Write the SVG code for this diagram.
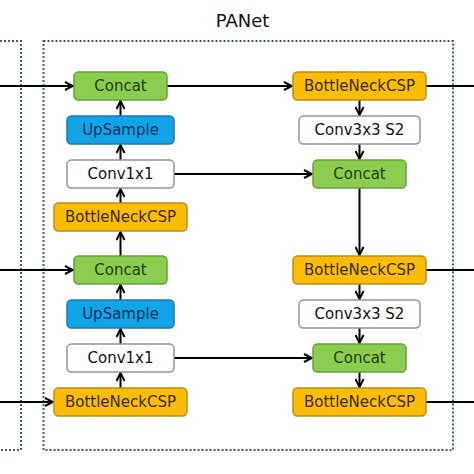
<svg xmlns="http://www.w3.org/2000/svg" width="474" height="474" viewBox="0 0 474 474">
<style>
.frame{fill:none;stroke:#4f5766;stroke-width:2;stroke-dasharray:2 2}
.n rect{stroke-width:1.5}
.cc rect{fill:#8bce4f;stroke:#6a9e3e}
.up rect{fill:#11a5e8;stroke:#1b7aae}
.bn rect{fill:#fbbd08;stroke:#b98d18}
.cv rect{fill:#ffffff;stroke:#949494}
.n text{font-family:"DejaVu Sans",sans-serif;font-size:15px;text-anchor:middle;dominant-baseline:central}
.cc text{fill:#1f3d0e}
.up text{fill:#0b2f5c}
.bn text{fill:#3b2a05}
.cv text{fill:#111}
.e{fill:none;stroke:#000;stroke-width:2}
</style>
<defs>
<marker id="a" viewBox="0 0 10 10" refX="9" refY="5" markerWidth="10" markerHeight="10" markerUnits="userSpaceOnUse" orient="auto">
<path d="M1,1 L9,5 L1,9" fill="none" stroke="#000" stroke-width="2"/>
</marker>
</defs>
<rect width="474" height="474" fill="#fff"/>
<text x="242.5" y="27" font-family="DejaVu Sans, sans-serif" font-size="18" text-anchor="middle" fill="#111">PANet</text>
<path class="frame" d="M0,41 H21 V450 H0"/>
<rect class="frame" x="43.5" y="41" width="409.5" height="409"/>
<g id="connectors">
<path class="e" d="M0,86 H73" marker-end="url(#a)"/>
<path class="e" d="M167,86 H292" marker-end="url(#a)"/>
<path class="e" d="M426,86 H474"/>
<path class="e" d="M174,174 H312" marker-end="url(#a)"/>
<path class="e" d="M120.5,116 V101" marker-end="url(#a)"/>
<path class="e" d="M120.5,160 V145" marker-end="url(#a)"/>
<path class="e" d="M120.5,203 V189" marker-end="url(#a)"/>
<path class="e" d="M120.5,256 V232" marker-end="url(#a)"/>
<path class="e" d="M0,270 H73" marker-end="url(#a)"/>
<path class="e" d="M120.5,300 V285" marker-end="url(#a)"/>
<path class="e" d="M120.5,344 V329" marker-end="url(#a)"/>
<path class="e" d="M120.5,388 V373" marker-end="url(#a)"/>
<path class="e" d="M0,402 H53" marker-end="url(#a)"/>
<path class="e" d="M174,358 H312" marker-end="url(#a)"/>
<path class="e" d="M359.5,100 V115" marker-end="url(#a)"/>
<path class="e" d="M359.5,144 V159" marker-end="url(#a)"/>
<path class="e" d="M359.5,188 V255" marker-end="url(#a)"/>
<path class="e" d="M359.5,284 V299" marker-end="url(#a)"/>
<path class="e" d="M359.5,328 V343" marker-end="url(#a)"/>
<path class="e" d="M359.5,372 V387" marker-end="url(#a)"/>
<path class="e" d="M426,270 H474"/>
<path class="e" d="M426,402 H474"/>
</g>
<g id="concat1" class="n cc"><rect x="74" y="72" width="93" height="28" rx="4.5"/><text x="120.5" y="86">Concat</text></g>
<g id="upsample1" class="n up"><rect x="67" y="116" width="107" height="28" rx="4.5"/><text x="120.5" y="130">UpSample</text></g>
<g id="conv1" class="n cv"><rect x="67" y="160" width="107" height="28" rx="4.5"/><text x="120.5" y="174">Conv1x1</text></g>
<g id="bn1" class="n bn"><rect x="54" y="203" width="133" height="28" rx="4.5"/><text x="120.5" y="217">BottleNeckCSP</text></g>
<g id="concat2" class="n cc"><rect x="74" y="256" width="93" height="28" rx="4.5"/><text x="120.5" y="270">Concat</text></g>
<g id="upsample2" class="n up"><rect x="67" y="300" width="107" height="28" rx="4.5"/><text x="120.5" y="314">UpSample</text></g>
<g id="conv2" class="n cv"><rect x="67" y="344" width="107" height="28" rx="4.5"/><text x="120.5" y="358">Conv1x1</text></g>
<g id="bn2" class="n bn"><rect x="54" y="388" width="133" height="28" rx="4.5"/><text x="120.5" y="402">BottleNeckCSP</text></g>
<g id="bn3" class="n bn"><rect x="293" y="72" width="133" height="28" rx="4.5"/><text x="359.5" y="86">BottleNeckCSP</text></g>
<g id="conv3" class="n cv"><rect x="299" y="116" width="121" height="28" rx="4.5"/><text x="359.5" y="130">Conv3x3 S2</text></g>
<g id="concat3" class="n cc"><rect x="313" y="160" width="93" height="28" rx="4.5"/><text x="359.5" y="174">Concat</text></g>
<g id="bn4" class="n bn"><rect x="293" y="256" width="133" height="28" rx="4.5"/><text x="359.5" y="270">BottleNeckCSP</text></g>
<g id="conv4" class="n cv"><rect x="299" y="300" width="121" height="28" rx="4.5"/><text x="359.5" y="314">Conv3x3 S2</text></g>
<g id="concat4" class="n cc"><rect x="313" y="344" width="93" height="28" rx="4.5"/><text x="359.5" y="358">Concat</text></g>
<g id="bn5" class="n bn"><rect x="293" y="388" width="133" height="28" rx="4.5"/><text x="359.5" y="402">BottleNeckCSP</text></g>
</svg>
